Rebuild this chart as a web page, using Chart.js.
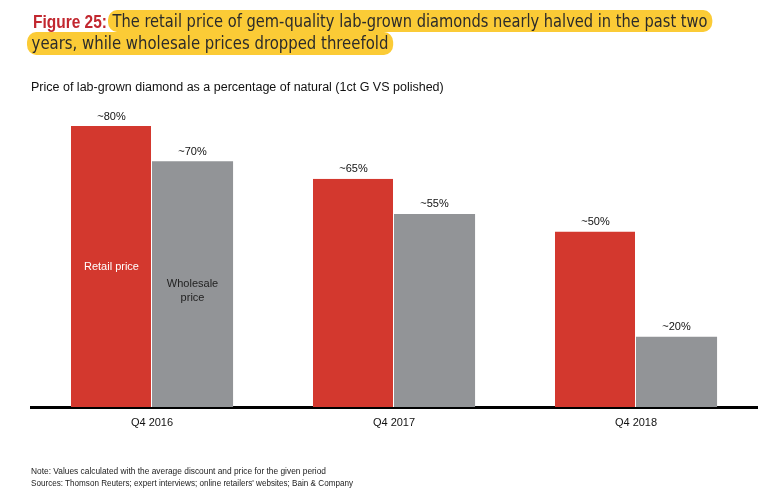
<!DOCTYPE html>
<html>
<head>
<meta charset="utf-8">
<script src="https://cdn.jsdelivr.net/npm/chart.js@4/dist/chart.umd.min.js"></script>
<style>
  html, body { margin: 0; padding: 0; background: #fff; }
  #wrap { position: relative; width: 768px; height: 496px; overflow: hidden; }
  #c { position: absolute; left: 0; top: 0; }
  .fit { position: absolute; white-space: nowrap; transform-origin: 0 50%; }
  .tl { font-family: "DejaVu Sans Condensed", "Liberation Sans", sans-serif; font-size: 18px; line-height: 22px; height: 22px; color: #2b2b2b; }
  .fig { color: #c2272f; font-weight: bold; font-family: "Liberation Sans", Arial, sans-serif; font-size: 18px; }
  .hl { background: #fbcb36; border-radius: 10px; padding: 0 5px; }
  .sub { position: absolute; left: 31px; top: 80px; font-family: "Liberation Sans", Arial, sans-serif;
    font-size: 12.5px; color: #111; }
  .note { font-family: "Liberation Sans", Arial, sans-serif; font-size: 9px; color: #222; }
</style>
</head>
<body>
<div id="wrap">
  <canvas id="c" width="768" height="496"></canvas>
  <div class="fit tl fig" data-w="74" style="left:33px; top:11px">Figure 25:</div>
  <div class="fit tl hl" data-w="604" style="left:108px; top:10px">The retail price of gem-quality lab-grown diamonds nearly halved in the past two</div>
  <div class="fit tl hl" data-w="366" style="left:27px; top:32px; height:23px">years, while wholesale prices dropped threefold</div>
  <div class="sub">Price of lab-grown diamond as a percentage of natural (1ct G VS polished)</div>
  <div class="fit note" data-w="295" style="left:31px; top:466px">Note: Values calculated with the average discount and price for the given period</div>
  <div class="fit note" data-w="322" style="left:31px; top:478px">Sources: Thomson Reuters; expert interviews; online retailers' websites; Bain &amp; Company</div>
</div>
<script>
document.querySelectorAll('.fit').forEach(el => {
  const target = parseFloat(el.dataset.w);
  const w = el.getBoundingClientRect().width;
  el.style.transform = 'scaleX(' + (target / w) + ')';
});

const categories = ["Q4 2016", "Q4 2017", "Q4 2018"];
const retailValues = [80, 65, 50];
const wholesaleValues = [70, 55, 20];
const retailLabels = ["~80%", "~65%", "~50%"];
const wholesaleLabels = ["~70%", "~55%", "~20%"];

const labelPlugin = {
  id: 'labels',
  afterDatasetsDraw(chart) {
    const ctx = chart.ctx;
    ctx.save();
    ctx.font = '11px "Liberation Sans", Arial, sans-serif';
    ctx.textAlign = 'center';
    ctx.textBaseline = 'bottom';
    ctx.fillStyle = '#111';
    const texts = [retailLabels, wholesaleLabels];
    chart.data.datasets.forEach((ds, di) => {
      const meta = chart.getDatasetMeta(di);
      meta.data.forEach((bar, i) => {
        ctx.fillText(texts[di][i], bar.x, bar.y - 4);
      });
    });
    const r = chart.getDatasetMeta(0).data[0];
    const w = chart.getDatasetMeta(1).data[0];
    const ys = chart.scales.y;
    ctx.textBaseline = 'middle';
    ctx.fillStyle = '#ffffff';
    ctx.fillText('Retail price', r.x, ys.getPixelForValue(40));
    ctx.fillStyle = '#222';
    ctx.fillText('Wholesale', w.x, ys.getPixelForValue(35));
    ctx.fillText('price', w.x, ys.getPixelForValue(31));
    ctx.restore();
  }
};

new Chart(document.getElementById('c'), {
  type: 'bar',
  data: {
    labels: categories,
    datasets: [
      { label: 'Retail price', data: retailValues, backgroundColor: '#d3382e', borderColor: '#ffffff', borderWidth: {right: 1}, borderSkipped: false },
      { label: 'Wholesale price', data: wholesaleValues, backgroundColor: '#929497', borderWidth: 0 }
    ]
  },
  options: {
    responsive: false,
    animation: false,
    devicePixelRatio: 1,
    layout: { padding: { left: 31, right: 11, top: 98, bottom: 0 } },
    plugins: { legend: { display: false }, tooltip: { enabled: false } },
    datasets: { bar: { categoryPercentage: 0.67, barPercentage: 1.0 } },
    scales: {
      x: {
        grid: { display: false, drawTicks: false },
        border: { display: true, color: '#000', width: 3 },
        ticks: { color: '#111', font: { family: '"Liberation Sans", Arial, sans-serif', size: 11 }, padding: 9 },
        afterFit(s) { s.height = 89; }
      },
      y: {
        display: false,
        min: 0, max: 88
      }
    }
  },
  plugins: [labelPlugin]
});
</script>
</body>
</html>
